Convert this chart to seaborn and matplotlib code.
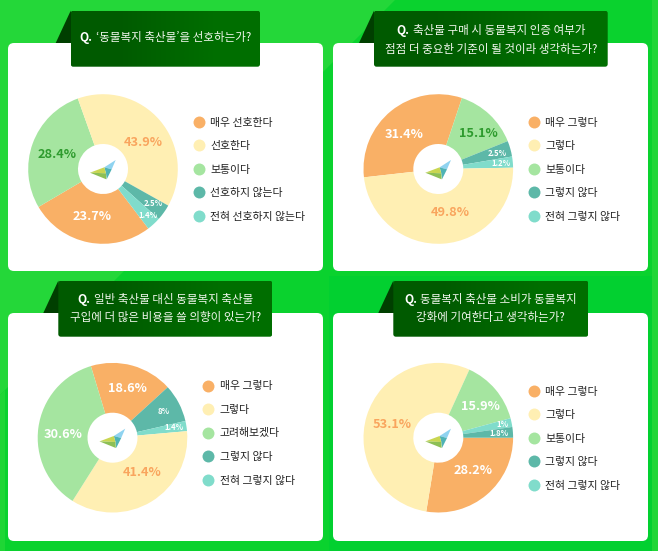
import matplotlib
matplotlib.use("Agg")
import matplotlib.pyplot as plt
import seaborn as sns
from matplotlib.colors import LinearSegmentedColormap
from matplotlib.lines import Line2D
from matplotlib.patches import FancyBboxPatch, Polygon

W, H = 658, 551

# wedge sizes as drawn in the picture (the printed labels do not add up to them)
shares_1 = [26.9, 38.6, 28.0, 3.5, 3.0]
shares_2 = [31.9, 48.5, 13.8, 3.4, 2.4]
shares_3 = [17.9, 35.4, 36.4, 8.2, 2.2]
shares_4 = [27.6, 54.3, 14.0, 2.3, 1.9]

labels_1 = ["23.7%", "43.9%", "28.4%", "2.5%", "1.4%"]
labels_2 = ["31.4%", "49.8%", "15.1%", "2.5%", "1.2%"]
labels_3 = ["18.6%", "41.4%", "30.6%", "8%", "1.4%"]
labels_4 = ["28.2%", "53.1%", "15.9%", "1.8%", "1%"]

# clockwise order of the wedges, index into the legend order
order_1 = [0, 2, 1, 3, 4]
order_2 = [0, 2, 3, 4, 1]
order_3 = [0, 3, 4, 1, 2]
order_4 = [0, 1, 2, 4, 3]

legend_1 = ["매우 선호한다", "선호한다", "보통이다", "선호하지 않는다", "전혀 선호하지 않는다"]
legend_2 = ["매우 그렇다", "그렇다", "보통이다", "그렇지 않다", "전혀 그렇지 않다"]
legend_3 = ["매우 그렇다", "그렇다", "고려해보겠다", "그렇지 않다", "전혀 그렇지 않다"]
legend_4 = ["매우 그렇다", "그렇다", "보통이다", "그렇지 않다", "전혀 그렇지 않다"]

title_1 = ["‘동물복지 축산물’을 선호하는가?"]
title_2 = ["축산물 구매 시 동물복지 인증 여부가", "점점 더 중요한 기준이 될 것이라 생각하는가?"]
title_3 = ["일반 축산물 대신 동물복지 축산물", "구입에 더 많은 비용을 쓸 의향이 있는가?"]
title_4 = ["동물복지 축산물 소비가 동물복지", "강화에 기여한다고 생각하는가?"]

colors = sns.color_palette(["#F9B066", "#FFEFB3", "#A5E5A0", "#5DB8A8", "#80DCCB"])
ORANGE_TEXT = "#F9A55E"
GREEN_TEXT = "#2E9B2E"

# layout in pixels of the picture
panels = [
    dict(shares=shares_1, labels=labels_1, order=order_1, legend=legend_1, title=title_1, start=-52.7,
         box=(8, 43), centre=(103, 169), tab=(70.7, 10.7, 260, 66.7), legend_xy=(198.7, 169),
         title_y=[38],
         text_xy=[(92, 217), (143, 143), (57, 155), (153, 204), (148, 216)],
         text_col=["white", ORANGE_TEXT, GREEN_TEXT, "white", "white"]),
    dict(shares=shares_2, labels=labels_2, order=order_2, legend=legend_2, title=title_2, start=-173.6,
         box=(333, 43), centre=(438.3, 169), tab=(374, 10.7, 607.7, 66.7), legend_xy=(533.7, 169),
         title_y=[30.7, 49],
         text_xy=[(404, 135), (450, 212), (478, 133.5), (497.7, 153.5), (501, 164)],
         text_col=["white", ORANGE_TEXT, GREEN_TEXT, "white", "white"]),
    dict(shares=shares_3, labels=labels_3, order=order_3, legend=legend_3, title=title_3, start=106.8,
         box=(8, 313), centre=(112.5, 437.7), tab=(58.3, 280.7, 272.3, 336.7), legend_xy=(208.3, 432.7),
         title_y=[299.3, 317],
         text_xy=[(127, 389), (142, 472.3), (62.7, 434.7), (163.7, 411.3), (173.7, 428)],
         text_col=["white", ORANGE_TEXT, "white", "white", "white"]),
    dict(shares=shares_4, labels=labels_4, order=order_4, legend=legend_4, title=title_4, start=0,
         box=(333, 313), centre=(438.3, 437.7), tab=(393.3, 280.7, 588.3, 336.7), legend_xy=(533.7, 438),
         title_y=[299.3, 317],
         text_xy=[(473.3, 470.7), (391.7, 424.3), (480.7, 407), (498.7, 434), (502, 424.7)],
         text_col=["white", ORANGE_TEXT, "white", "white", "white"]),
]

sns.set_theme(style="white")
plt.rcParams["font.family"] = ["Noto Sans CJK KR", "DejaVu Sans"]

tab_cmap = LinearSegmentedColormap.from_list("tab", ["#005A00", "#006E00"])


def px_axes(fig, zorder):
    ax = fig.add_axes([0, 0, 1, 1], zorder=zorder)
    ax.set_xlim(0, W)
    ax.set_ylim(H, 0)
    ax.axis("off")
    ax.patch.set_alpha(0)
    return ax


def draw_logo(ax, cx, cy):
    # small arrow mark in the middle of every pie
    shapes = [
        ("#8FD3F0", [(12.7, -9), (1.3, -1.7), (8.7, 0.3)]),
        ("#4FB3B5", [(1.3, -1.7), (8.7, 0.3), (3.7, 10.3), (3, 4.3)]),
        ("#C9D651", [(-13, 3.7), (1.3, -1.7), (3, 4.3)]),
        ("#8DBF55", [(-13, 3.7), (3, 4.3), (3.3, 10.3)]),
    ]
    for col, pts in shapes:
        ax.add_patch(Polygon([(cx + x, cy + y) for x, y in pts], closed=True, color=col, lw=0))


def draw_tab(ax, p):
    x0, y0, x1, y1 = p["tab"]
    by = p["box"][1]
    ax.add_patch(Polygon([(x0 - 15, by), (x0, y0), (x0 + 5, by)], color="#003F00", lw=0, zorder=2))
    box = FancyBboxPatch((x0, y0), x1 - x0, y1 - y0, boxstyle="round,pad=0,rounding_size=2.5", fc="none", ec="none", zorder=2)
    ax.add_patch(box)
    im = ax.imshow([[0, 1]], extent=(x0, x1, y1, y0), cmap=tab_cmap, aspect="auto", interpolation="bilinear", zorder=2.5)
    im.set_clip_path(box)
    ax.set_xlim(0, W)
    ax.set_ylim(H, 0)


def draw_title(fig, ax, p):
    x0, y0, x1, y1 = p["tab"]
    mid = (x0 + x1) / 2
    renderer = fig.canvas.get_renderer()
    for i, line in enumerate(p["title"]):
        y = p["title_y"][i]
        if i > 0:
            ax.text(mid, y, line, color="#F2F7EE", fontsize=8.3, ha="center", va="center", zorder=4)
            continue
        q = ax.text(0, y, "Q.", color="white", fontsize=8.6, fontweight="bold", ha="left", va="center", zorder=4)
        rest = ax.text(0, y, line, color="#F2F7EE", fontsize=8.3, ha="left", va="center", zorder=4)
        qw = q.get_window_extent(renderer).width
        rw = rest.get_window_extent(renderer).width
        left = mid - (qw + 3 + rw) / 2
        q.set_x(left)
        rest.set_x(left + qw + 3)


fig = plt.figure(figsize=(W / 100, H / 100), dpi=100, facecolor="#24D739")
bg = px_axes(fig, 0)
top = px_axes(fig, 2)

# backdrop: one lighter facet in the upper left, a darker one across the rest
bg.add_patch(Polygon([(395, 0), (W, 0), (W, H), (0, H), (0, 395)], color="#0AD22E", lw=0))
bg.add_patch(Polygon([(329, 276), (W, 276), (W, H), (329, H)], color="#02D030", lw=0))
bg.add_patch(Polygon([(652, 0), (W, 0), (W, H), (652, H)], color="#22D638", lw=0))
bg.add_patch(Polygon([(0, 395), (5, 390), (5, H), (0, H)], color="#1FD635", lw=0))

for p in panels:
    bx, by = p["box"]
    bg.add_patch(FancyBboxPatch((bx, by), 315, 228, boxstyle="round,pad=0,rounding_size=6", fc="white", ec="none"))
    cx, cy = p["centre"]
    r = 74.8
    ax = fig.add_axes([(cx - r) / W, 1 - (cy + r) / H, 2 * r / W, 2 * r / H], zorder=1)
    ax.pie(
        [p["shares"][i] for i in p["order"]],
        colors=[colors[i] for i in p["order"]],
        startangle=p["start"],
        counterclock=False,
        radius=1,
        wedgeprops={"width": 1 - 25 / 74.8, "linewidth": 0},
    )
    ax.set_xlim(-1, 1)
    ax.set_ylim(-1, 1)

    draw_logo(top, cx, cy)
    for lab, (tx, ty), col in zip(p["labels"], p["text_xy"], p["text_col"]):
        small = len(lab) <= 4
        top.text(tx, ty, lab, color=col, fontsize=5.6 if small else 9.2, fontweight="bold", ha="center", va="center")

    draw_tab(top, p)
    draw_title(fig, top, p)

    handles = [Line2D([], [], ls="", marker="o", ms=8.6, mew=0, color=c) for c in colors]
    lx, ly = p["legend_xy"]
    leg = top.legend(
        handles, p["legend"], loc="center left", bbox_to_anchor=(lx - 5.4, ly + 0.8), bbox_transform=top.transData,
        frameon=False, fontsize=7.85, labelspacing=1.24, handlelength=1, handletextpad=0.54, borderpad=0, borderaxespad=0,
        labelcolor="#222222",
    )
    # matplotlib holds only the last legend on an axes, so pin each one
    top.add_artist(leg)
    top.legend_ = None

fig.savefig("out.png", dpi=100, facecolor=fig.get_facecolor())
